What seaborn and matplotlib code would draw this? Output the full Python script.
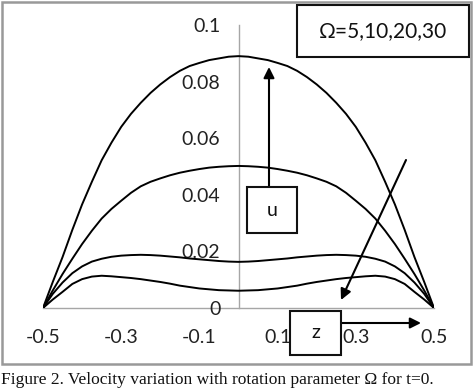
import numpy as np
import pandas as pd
import seaborn as sns
import matplotlib
matplotlib.use("Agg")
import matplotlib.pyplot as plt
from matplotlib.patches import Rectangle

# 数据
z = [-0.5, -0.475, -0.45, -0.425, -0.4, -0.375, -0.35, -0.325, -0.3, -0.275, -0.25,
     -0.225, -0.2, -0.175, -0.15, -0.125, -0.1, -0.075, -0.05, -0.025, 0.0,
     0.025, 0.05, 0.075, 0.1, 0.125, 0.15, 0.175, 0.2, 0.225, 0.25,
     0.275, 0.3, 0.325, 0.35, 0.375, 0.4, 0.425, 0.45, 0.475, 0.5]
u_omega5 = [0, 0.0092, 0.0180, 0.0276, 0.0366, 0.0446, 0.0522, 0.0584, 0.0640, 0.0686, 0.0725,
            0.0760, 0.0790, 0.0816, 0.0838, 0.0855, 0.0866, 0.0876, 0.0882, 0.0888, 0.0890,
            0.0888, 0.0882, 0.0876, 0.0866, 0.0855, 0.0838, 0.0816, 0.0790, 0.0760, 0.0725,
            0.0686, 0.0640, 0.0584, 0.0522, 0.0446, 0.0366, 0.0276, 0.0180, 0.0092, 0]
u_omega10 = [0, 0.0062, 0.0120, 0.0174, 0.0226, 0.0273, 0.0316, 0.0350, 0.0379, 0.0407, 0.0430,
             0.0446, 0.0458, 0.0469, 0.0478, 0.0485, 0.0491, 0.0496, 0.0499, 0.0501, 0.0502,
             0.0501, 0.0499, 0.0496, 0.0491, 0.0485, 0.0478, 0.0469, 0.0458, 0.0446, 0.0430,
             0.0407, 0.0379, 0.0350, 0.0316, 0.0273, 0.0226, 0.0174, 0.0120, 0.0062, 0]
u_omega20 = [0, 0.0050, 0.0090, 0.0123, 0.0147, 0.0164, 0.0174, 0.0181, 0.0185, 0.0187, 0.0188,
             0.0187, 0.0185, 0.0182, 0.0179, 0.0175, 0.0172, 0.0169, 0.0166, 0.0164, 0.0163,
             0.0164, 0.0166, 0.0169, 0.0172, 0.0175, 0.0179, 0.0182, 0.0185, 0.0187, 0.0188,
             0.0187, 0.0185, 0.0181, 0.0174, 0.0164, 0.0147, 0.0123, 0.0090, 0.0050, 0]
u_omega30 = [0, 0.0030, 0.0057, 0.0085, 0.0102, 0.0111, 0.0114, 0.0112, 0.0109, 0.0106, 0.0102,
             0.0097, 0.0092, 0.0086, 0.0079, 0.0074, 0.0069, 0.0066, 0.0063, 0.0062, 0.0061,
             0.0062, 0.0063, 0.0066, 0.0069, 0.0074, 0.0079, 0.0086, 0.0092, 0.0097, 0.0102,
             0.0106, 0.0109, 0.0112, 0.0114, 0.0111, 0.0102, 0.0085, 0.0057, 0.0030, 0]
omega = ['5', '10', '20', '30']
x_ticks = [-0.5, -0.3, -0.1, 0.1, 0.3, 0.5]
x_labels = ['-0.5', '-0.3', '-0.1', '0.1', '0.3', '0.5']
y_ticks = [0, 0.02, 0.04, 0.06, 0.08, 0.1]
y_labels = ['0', '0.02', '0.04', '0.06', '0.08', '0.1']

df = pd.DataFrame({
    'z': z * 4,
    'u': u_omega5 + u_omega10 + u_omega20 + u_omega30,
    'Omega': sum([[o] * len(z) for o in omega], []),
})

sns.set_style("white")
plt.rcParams['font.family'] = ['Lato', 'DejaVu Sans']

W, H = 474, 391
fig = plt.figure(figsize=(W / 100, H / 100), dpi=100)
ax = fig.add_axes([43 / W, 1 - 308 / H, 391 / W, 283 / H])

sns.lineplot(data=df, x='z', y='u', hue='Omega', units='Omega', estimator=None,
             palette=['black'] * 4, legend=False, linewidth=1.4, ax=ax, sort=False)

ax.set_xlim(-0.5, 0.5)
ax.set_ylim(0, 0.1)
ax.set_xlabel('')
ax.set_ylabel('')
ax.set_xticks(x_ticks)
ax.set_xticklabels(x_labels)
ax.set_yticks(y_ticks)
ax.set_yticklabels(y_labels)
for s in ['top', 'right']:
    ax.spines[s].set_visible(False)
ax.spines['left'].set_position(('data', 0))
ax.spines['bottom'].set_position(('data', 0))
for s in ['left', 'bottom']:
    ax.spines[s].set_color('#a6a6a6')
    ax.spines[s].set_linewidth(1.0)
    ax.spines[s].set_zorder(0)
ax.tick_params(axis='both', direction='out', length=5, width=1.0, color='#a6a6a6',
               labelsize=14, labelcolor='#222222')
ax.tick_params(axis='x', pad=10)
ax.tick_params(axis='y', pad=8)
ax.patch.set_alpha(0)


def fp(x, y):
    # 像素 -> figure 坐标
    return (x / W, 1 - y / H)


def box(x0, y0, x1, y1, text, size):
    fig.add_artist(Rectangle(fp(x0, y1), (x1 - x0) / W, (y1 - y0) / H,
                             transform=fig.transFigure, facecolor='white',
                             edgecolor='#111111', linewidth=1.5, zorder=5))
    fig.text(*fp((x0 + x1) / 2, (y0 + y1) / 2), text, ha='center', va='center',
             fontsize=size, color='#111111', zorder=6)


def arrow(xs, ys, xe, ye):
    ax.annotate('', xy=fp(xe, ye), xytext=fp(xs, ys), xycoords='figure fraction',
                textcoords='figure fraction',
                arrowprops=dict(arrowstyle='-|>', color='black', lw=1.5,
                                mutation_scale=16, shrinkA=0, shrinkB=0),
                annotation_clip=False, zorder=6)


box(297, 5, 469, 57, 'Ω=5,10,20,30', 15)
box(247, 187, 297, 233, 'u', 14)
box(290, 311, 341, 355, 'z', 14)
arrow(269, 187, 269, 67)
arrow(406, 160, 341, 300)
arrow(341, 323, 421, 323)

# 外框
fig.add_artist(Rectangle(fp(2, 364), 469 / W, 362 / H, transform=fig.transFigure,
                         facecolor='none', edgecolor='#999999', linewidth=1.8, zorder=7))

fig.text(0.002, 1 - 380 / H, 'Figure 2. Velocity variation with rotation parameter Ω for t=0.',
         family=['Liberation Serif', 'DejaVu Serif'], fontsize=12.5, va='center', ha='left',
         color='#111111')

fig.savefig('out.png', dpi=100)
